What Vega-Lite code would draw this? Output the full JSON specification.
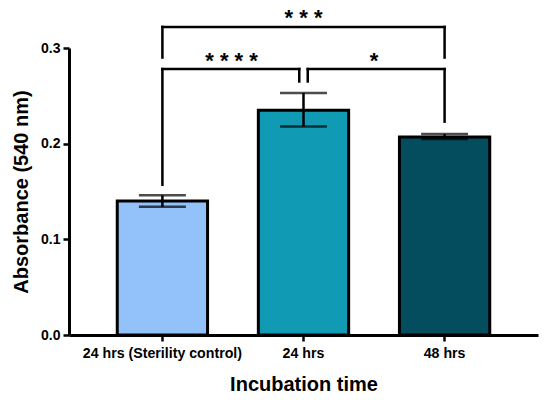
{
  "$schema": "https://vega.github.io/schema/vega-lite/v6.json",
  "autosize": {"type": "none"},
  "width": 469,
  "height": 287,
  "padding": {"left": 69, "top": 48, "right": 12, "bottom": 70},
  "background": "white",
  "config": {
    "view": {"stroke": null},
    "font": "Liberation Sans",
    "axis": {"grid": false, "domainColor": "black", "tickColor": "black", "labelColor": "black", "titleColor": "black", "labelFont": "Liberation Sans", "titleFont": "Liberation Sans", "labelFontWeight": "bold", "titleFontWeight": "bold"}
  },
  "datasets": {
    "bars": [
      {"group": "24 hrs (Sterility control)", "mean": 0.140, "lo": 0.134, "hi": 0.146},
      {"group": "24 hrs", "mean": 0.235, "lo": 0.218, "hi": 0.253},
      {"group": "48 hrs", "mean": 0.207, "lo": 0.205, "hi": 0.210}
    ],
    "brackets": [
      {"x": 0, "x2": 2, "y": 0.322, "y2": 0.322},
      {"x": 0, "x2": 0, "y": 0.322, "y2": 0.290},
      {"x": 2, "x2": 2, "y": 0.322, "y2": 0.290},
      {"x": 0, "x2": 0.97, "y": 0.278, "y2": 0.278},
      {"x": 0, "x2": 0, "y": 0.278, "y2": 0.157},
      {"x": 0.97, "x2": 0.97, "y": 0.278, "y2": 0.265},
      {"x": 1.03, "x2": 2, "y": 0.278, "y2": 0.278},
      {"x": 1.03, "x2": 1.03, "y": 0.278, "y2": 0.265},
      {"x": 2, "x2": 2, "y": 0.278, "y2": 0.223}
    ],
    "stars": [
      {"x": 1.0, "y": 0.336, "label": "* * *"},
      {"x": 0.49, "y": 0.291, "label": "* * * *"},
      {"x": 1.5, "y": 0.291, "label": "*"}
    ]
  },
  "layer": [
    {
      "data": {"name": "bars"},
      "layer": [
        {
          "mark": {"type": "bar", "stroke": "black", "strokeWidth": 3},
          "encoding": {
            "x": {"field": "group", "type": "nominal", "sort": null,
              "scale": {"paddingInner": 0.36, "paddingOuter": 0.342},
              "axis": {"title": "Incubation time", "titleFontSize": 20, "titlePadding": 14, "labelFontSize": 14.2, "labelAngle": 0, "labelPadding": 5, "tickSize": 6, "tickWidth": 2.5, "domainWidth": 3, "labelLimit": 300}},
            "y": {"field": "mean", "type": "quantitative",
              "scale": {"domain": [0, 0.3], "nice": false},
              "axis": {"title": "Absorbance (540 nm)", "titleFontSize": 20, "titlePadding": 9, "labelFontSize": 14, "values": [0, 0.1, 0.2, 0.3], "format": ".1f", "tickSize": 6, "tickWidth": 2.5, "domainWidth": 3, "labelPadding": 3}},
            "fill": {"field": "group", "type": "nominal", "sort": null, "legend": null,
              "scale": {"domain": ["24 hrs (Sterility control)", "24 hrs", "48 hrs"], "range": ["#93C1F9", "#119AB3", "#044D5F"]}}
          }
        },
        {
          "mark": {"type": "rule", "color": "black", "strokeWidth": 2.5},
          "encoding": {
            "x": {"field": "group", "type": "nominal", "sort": null},
            "y": {"field": "lo", "type": "quantitative"},
            "y2": {"field": "hi"}
          }
        },
        {
          "mark": {"type": "tick", "color": "black", "thickness": 2.5, "size": 47},
          "encoding": {
            "x": {"field": "group", "type": "nominal", "sort": null},
            "y": {"field": "lo", "type": "quantitative"}
          }
        },
        {
          "mark": {"type": "tick", "color": "black", "thickness": 2.5, "size": 47},
          "encoding": {
            "x": {"field": "group", "type": "nominal", "sort": null},
            "y": {"field": "hi", "type": "quantitative"}
          }
        }
      ]
    },
    {
      "layer": [
        {
          "data": {"name": "brackets"},
          "mark": {"type": "rule", "color": "black", "strokeWidth": 2.5, "strokeCap": "square"},
          "encoding": {
            "x": {"field": "x", "type": "quantitative", "scale": {"domain": [-0.662, 2.662], "nice": false, "zero": false}, "axis": null},
            "x2": {"field": "x2"},
            "y": {"field": "y", "type": "quantitative"},
            "y2": {"field": "y2"}
          }
        },
        {
          "data": {"name": "stars"},
          "mark": {"type": "text", "fontSize": 22, "fontWeight": "bold", "font": "Liberation Sans", "baseline": "middle", "color": "black", "dy": 4},
          "encoding": {
            "x": {"field": "x", "type": "quantitative", "axis": null},
            "y": {"field": "y", "type": "quantitative"},
            "text": {"field": "label"}
          }
        }
      ]
    }
  ],
  "resolve": {"scale": {"x": "independent"}}
}
